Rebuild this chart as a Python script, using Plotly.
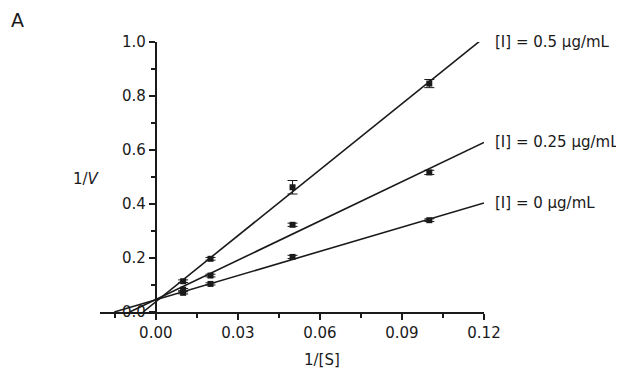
import numpy as np
import plotly.graph_objects as go

# ---- data ----
inv_s = [0.01, 0.02, 0.05, 0.10]
series_names = ["[I] = 0 μg/mL", "[I] = 0.25 μg/mL", "[I] = 0.5 μg/mL"]
inv_v_0 = [0.071, 0.104, 0.204, 0.340]
inv_v_025 = [0.083, 0.135, 0.323, 0.517]
inv_v_05 = [0.114, 0.197, 0.462, 0.846]
err_0 = [0.004, 0.004, 0.006, 0.005]
err_025 = [0.004, 0.005, 0.006, 0.008]
err_05 = [0.005, 0.005, 0.025, 0.015]
x_ticks = [0.00, 0.03, 0.06, 0.09, 0.12]
x_tick_labels = ["0.00", "0.03", "0.06", "0.09", "0.12"]
y_ticks = [0.0, 0.2, 0.4, 0.6, 0.8, 1.0]
y_tick_labels = ["0.0", "0.2", "0.4", "0.6", "0.8", "1.0"]

XMIN, XMAX = -0.0204, 0.12
YMIN, YMAX = 0.0, 1.0
FONT = "DejaVu Sans"
INK = "#1a1a1a"

fig = go.Figure()
ys = [inv_v_0, inv_v_025, inv_v_05]
es = [err_0, err_025, err_05]
annotations = []
for name, y, e in zip(series_names, ys, es):
    slope, icpt = np.polyfit(inv_s, y, 1)
    x_start = -icpt / slope
    xl = [x_start, XMAX]
    yl = [slope * x_start + icpt, slope * XMAX + icpt]
    fig.add_trace(go.Scatter(x=xl, y=yl, mode="lines",
                             line=dict(color=INK, width=1.6),
                             showlegend=False, hoverinfo="skip"))
    fig.add_trace(go.Scatter(x=inv_s, y=y, mode="markers",
                             marker=dict(symbol="square", size=6, color=INK),
                             error_y=dict(type="data", array=e, color=INK,
                                          thickness=1, width=5),
                             showlegend=False, name=name))
    annotations.append(dict(x=XMAX, y=min(yl[1], YMAX), xref="x", yref="y",
                            text=name, showarrow=False, xanchor="left",
                            yanchor="middle", xshift=9,
                            font=dict(family=FONT, size=15, color=INK)))

ypos = (0 - XMIN) / (XMAX - XMIN)

annotations += [
    dict(x=-0.034, y=0.491, xref="paper", yref="paper", text="1/<i>V</i>",
         showarrow=False, xanchor="center", yanchor="middle",
         font=dict(family=FONT, size=15, color=INK)),
    dict(x=0.578, y=-0.176, xref="paper", yref="paper", text="1/[S]",
         showarrow=False, xanchor="center", yanchor="middle",
         font=dict(family=FONT, size=15, color=INK)),
    dict(x=-0.236, y=1.083, xref="paper", yref="paper", text="A",
         showarrow=False, xanchor="left", yanchor="middle",
         font=dict(family=FONT, size=19, color=INK)),
]

fig.update_layout(
    width=616, height=369,
    margin=dict(l=92, r=140, t=34, b=65, autoexpand=False),
    plot_bgcolor="white", paper_bgcolor="white",
    font=dict(family=FONT, size=15, color=INK),
    annotations=annotations,
    xaxis=dict(range=[XMIN, XMAX], tickmode="array", tickvals=x_ticks,
               ticktext=x_tick_labels, ticks="outside", ticklen=6,
               tickwidth=1.6, tickcolor=INK, showline=True, linecolor=INK,
               linewidth=2, showgrid=False, zeroline=False, automargin=False,
               minor=dict(dtick=0.015, tick0=0, ticks="outside", ticklen=4,
                          tickwidth=1.6, tickcolor=INK, showgrid=False),
               tickfont=dict(family=FONT, size=15, color=INK)),
    yaxis=dict(range=[YMIN, YMAX], tickmode="array", tickvals=y_ticks,
               ticktext=y_tick_labels, ticks="outside", ticklen=6,
               tickwidth=1.6, tickcolor=INK, showline=True, linecolor=INK,
               linewidth=2, showgrid=False, zeroline=False, automargin=False,
               anchor="free", position=ypos,
               minor=dict(dtick=0.1, tick0=0, ticks="outside", ticklen=4,
                          tickwidth=1.6, tickcolor=INK, showgrid=False),
               tickfont=dict(family=FONT, size=15, color=INK)),
)

fig.write_html("out.html")
